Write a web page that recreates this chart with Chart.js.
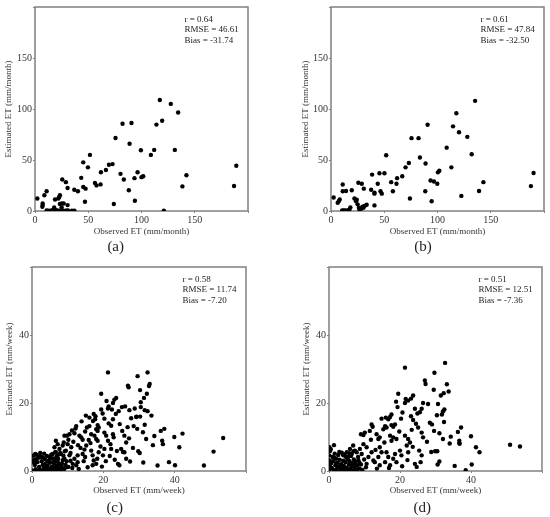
<!DOCTYPE html>
<html>
<head>
<meta charset="utf-8">
<script src="https://cdn.jsdelivr.net/npm/chart.js"></script>
<style>
  body { margin: 0; background: #fff; }
  #wrap { position: relative; width: 550px; height: 517px; }
  canvas { position: absolute; }
</style>
</head>
<body>
<div id="wrap">
  <canvas id="chartA" width="275" height="260" style="left:0;top:0"></canvas>
  <canvas id="chartB" width="275" height="260" style="left:275px;top:0"></canvas>
  <canvas id="chartC" width="275" height="257" style="left:0;top:260px"></canvas>
  <canvas id="chartD" width="275" height="257" style="left:275px;top:260px"></canvas>
</div>
<script>
// (a) monthly, [observed, estimated]
const monthlyA = [
  [2.2,12.2],[7.2,7.4],[7.2,5.8],[6.9,4.2],[8.8,15.5],[10.9,19.3],[10.9,0.5],[12.5,0.3],[14.7,0.3],[16,0.5],
  [17.3,1.2],[18.5,0.3],[21.6,0.3],[23.4,0.3],[26.6,0.3],[29.7,0.3],[31,0.5],[34.7,0.3],[37,0.3],[18.8,11.3],
  [18,3.5],[21.9,12.2],[22.8,13.8],[23.4,15.5],[25.6,30.9],[25,7.4],[23.4,6.8],[25,3.5],[26.9,7.4],[29,28.3],
  [30.6,22.5],[30.6,5.8],[36.9,20.9],[40.3,19.3],[43.4,32.5],[45.3,47.7],[45.3,23.5],[47.5,21.9],[46.9,9],[49.7,42.8],
  [51.6,55],[56.3,27.4],[57.8,25.1],[61.6,26.1],[61.9,38],[66.6,40.2],[69.4,45.4],[72.8,46],[74,6.8],[75.6,71.5],
  [80.3,36.4],[82.2,85.6],[83.4,30.9],[88.8,66],[88.1,20.3],[90.6,86.3],[93.4,32.2],[93.8,10],[96.3,38],[99.4,59.6],
  [100,33.2],[101.6,34.1],[108.8,55],[111.9,59.9],[114,84.7],[117.2,108.8],[119.4,88.5],[121,0.3],[127.5,105],[131.3,59.9],
  [134.4,96.6],[138.4,24.1],[142.2,35.1],[186.9,24.5],[189,44.4],[28.8,0.3],[20,0.8]
];
// (b) monthly
const monthlyB = [
  [2.5,13.2],[6.3,8],[7.2,9.6],[8.2,11.3],[11,26],[11,19.3],[10.5,0.5],[12,0.5],[13.5,0.5],[15.6,0.5],
  [17.2,1.2],[14.1,19.6],[19.5,20.3],[18.2,3.5],[22,12.2],[23.5,9.6],[25.7,27.7],[25,6.5],[26.2,3.3],[26.8,1.5],
  [28.6,2.3],[30.5,3.3],[31.5,5],[28.9,26.7],[30.8,21.9],[37.7,20.9],[38.6,35.7],[40.8,18],[40.8,17],[40.8,5.5],
  [43.9,26.7],[45.5,37],[46.5,19.3],[47.7,17],[50.2,37],[51.8,54.7],[56.5,28.3],[58.1,19.3],[61.5,26.7],[62.1,32.2],
  [66.9,34.1],[70,42.8],[73.1,47],[74.1,12.2],[75.6,71.4],[82.2,71.4],[83.5,52.4],[88.8,46.6],[88.5,19.3],[90.7,84.6],
  [93.5,29.9],[94.5,9.6],[96.7,28.9],[99.8,26.7],[100.4,37.9],[101.7,39.5],[108.6,62.1],[113,42.8],[114.6,83],[117.7,95.8],
  [120.2,77.2],[122.4,14.8],[128,72.7],[132.1,55.6],[135.3,108],[139,19.6],[143.1,28.3],[187.7,24.4],[190.2,37.3],[33.5,6.2],
  [24.2,11],[29.5,4.2]
];
// (c) weekly
const weeklyC = [
  [32.4,29],[29.6,27.9],[33,25.6],[32.8,25],[30.3,23.8],[32.2,22.7],[31.4,21.5],[30.5,20.2],[30.5,18.8],[31.6,17.9],
  [32.4,17.6],[29.3,16],[30.3,16],[33.5,16.3],[31.6,13.6],[31.1,11.4],[37.1,12.4],[36.1,11.8],[42.2,11],[39.9,10],
  [32,9.4],[34.3,10.3],[36.5,8.9],[36.7,7.9],[53.6,9.7],[33.9,7.6],[41.3,7],[29.8,5.8],[30.2,5.3],[50.9,5.7],
  [31.2,2.5],[35.2,1.6],[38.4,2.6],[40.1,1.7],[48.2,1.6],[28.8,18.4],
  [21.3,29],[26.9,25.1],[27.1,24.6],[19.4,22.7],[23.6,21.5],[23.1,21],[22.7,20],[21.5,19],[21.3,18.4],[19.4,18.1],
  [25.2,18.8],[26.1,19],[27.3,17.9],[24.3,17.6],[29.2,15.9],[17.3,16.8],[17.8,16.1],[17.7,15.2],[17.1,14.7],[16.1,15.7],
  [20.3,15.4],[22.7,15.2],[21.5,14],[22.2,13.3],[18.4,13.5],[18.7,12.8],[18,12.3],[18.4,11.8],[16.1,13.2],[15.4,12.8],
  [14.9,11.6],[12.4,13.2],[12.2,12.5],[11.9,11.1],[10.5,10.8],[9.8,10.4],[9.1,10.4],[13.3,10.4],[13.8,9.9],[14.2,9.2],
  [16.6,10.8],[17.5,10.4],[18,9.4],[18.4,8.9],[20.3,11.3],[20.8,10.4],[21.3,8.9],[22.7,10.8],[22.9,9.9],[25.3,11.8],
  [25.9,10.4],[26.4,8.4],[25,6.5],[25.9,5.5],[26.4,3.6],[24.1,2.1],[24.5,1.7],[22,7.9],[22.2,6.5],[20.3,6.5],
  [19.9,4.6],[18.7,5.5],[18.3,3.6],[18,2.1],[16.6,6],[17,4.6],[17.3,3.1],[17,1.7],[15.2,7.5],[14.7,6.3],
  [14.2,5],[14.9,4.1],[12.8,4.6],[11.9,3.6],[12.8,2.6],[11.4,2.1],[12.4,1.7],[10,7.9],[11,7],[9.5,6],
  [8.6,7.5],[8.1,5],[10.5,4.6],[9.1,3.6],[6.7,8.9],[7.2,7.9],[6.3,7],[7.7,6.5],[6.7,5.5],[5.8,5],
  [7.2,4.6],[6.3,3.6],
  [27.8,15.5],[28.5,13.2],[27.2,9.6],[28.3,6.8],[29.5,12.4],[26.8,12.9],[24.6,13.8],[23.5,16.8],[25.5,5.6],[27.5,2.8],
  [8.4,2.2],[9.6,1.1],[10.8,5.3],[11.6,8.6],[12.9,7.6],[13.6,6.8],[13.1,0.6],[14.5,2.9],[15.6,1.1],[15.9,9.1],
  [16.4,8.2],[19.2,7.2],[19.6,1.3],[20.7,2.9],[21.8,4.4],[23.2,3.3],[23.8,5.9],[10.2,9.2],[8.9,8.4],[11.2,11.9],
  [13.9,14.6],[15.1,16.3],[19.8,16.9],[20.9,20.6],[22.4,18.1],
  [0.3,4.5],[0.5,3.2],[0.8,1.8],[1,0.5],[1.2,4.8],[1.5,2.6],[1.8,3.9],[2,1.2],[2.2,0.3],[2.5,4.2],
  [2.7,2.9],[3,1.8],[3.2,0.6],[3.4,5.1],[3.6,3.5],[3.8,2.2],[4,0.9],[4.2,4.4],[4.4,1.5],[4.6,0.2],
  [4.8,3.1],[5,2.4],[5.2,0.7],[5.4,4.8],[5.6,1.3],[5.8,3.7],[6,0.4],[6.2,2.1],[6.4,1],[6.6,3],
  [6.8,0.2],[7,1.6],[7.2,2.7],[7.5,0.8],[7.8,2],[8,0.3],[8.3,1.3],[8.6,3.2],[9,0.6],[9.4,1.8],
  [2.3,5.3],[1.1,3.5],[0.6,2.4],[3.1,4],[4.9,4.1],[5.5,0.1],[6.9,4.2],[7.3,3.6],[8.8,4.5],[9.7,2.9],
  [10.2,1.2],[10.8,3],[11.3,0.9],[0.2,0.1],[1.6,0.1],[2.9,0.1],[3.7,1.2],[4.5,2.9],[5.9,2.6],[6.5,5.5],
  [7.9,5.3],[9.2,5.8],[3.5,0.1],[0.9,5],[2,4.3]
];
// (d) weekly
const weeklyD = [
  [32.7,31.8],[29.7,28.9],[33.2,25.5],[29.5,23.9],[33.7,23.4],[32.3,22.9],[31.5,22.2],[30.7,19.7],[32.5,18.1],[32.1,17.5],
  [31.8,16.6],[30.4,16.4],[32.4,14.4],[37.2,12.8],[36.3,11.5],[31.1,11.1],[40,10.2],[34.3,10.1],[32.1,9.4],[36.7,8.9],
  [36.7,8.2],[36.8,8],[34,8.1],[41.4,7],[51,7.7],[53.8,7.2],[42.4,5.5],[29.9,5.8],[30.5,5.8],[31.1,2.8],
  [30.6,1.9],[35.4,1.5],[40.2,1.9],[38.5,0.2],[29,13.7],
  [21.4,30.4],[27,26.6],[27.2,25.6],[19.5,22.7],[23.7,22.2],[23.1,21.3],[22.3,20.7],[21.6,21.2],[21.4,20],[19.3,18.8],
  [26.5,20],[26.1,18.3],[25.6,17.3],[24.9,16.9],[24.2,18.3],[23.1,16.1],[23.7,15],[17.6,16.6],[17.2,15.9],[16.7,15.2],
  [16,15.7],[14.8,15.4],[20.3,15.4],[17.6,13.5],[18.1,13],[18.6,13.7],[15.8,13.2],[16.2,12.8],[15.3,12.3],[12,13.7],
  [12.3,13],[11.5,11.8],[10.1,11.3],[9.7,10.6],[9,10.8],[13.4,10.8],[14.3,9.9],[13.9,9.4],[17.2,10.4],[18.1,9.9],
  [17.6,8.9],[19,9.4],[21.4,10.4],[22.3,9.4],[22.8,8.4],[25.1,12.8],[26.1,11.3],[26.5,9.9],[25.4,6],[26.1,4.6],
  [25.8,2.6],[24.2,2.1],[24.7,1.2],[21.9,7.5],[22.3,5.5],[20,6],[20.4,4.6],[18.6,5],[18.1,3.6],[19,2.6],
  [16.2,5.5],[16.7,4.1],[15.8,2.6],[17.2,1.7],[14.3,7],[14.8,5.5],[13.9,4.1],[12.9,2.6],[14.3,1.7],[12,5.5],
  [11.1,4.1],[12.5,3.1],[10.6,2.1],[9.7,7.9],[10.6,7],[8.7,6.5],[9.2,5],[7.8,5.5],[8.2,4.1],[6.8,7.5],
  [5.9,6.5],[7.3,6],[5,5.5],[6.4,5],[5.4,4.1],[4,4.6],[1.4,7.6],[0.1,7],
  [27.9,19.7],[28.4,14.2],[27.6,8.6],[28.8,5.6],[29.6,11.8],[24.5,13.9],[23.3,12.1],[19.8,11.6],[20.7,17.2],[18.9,20.4],
  [13.1,6.2],[15.6,8.4],[11.8,9.2],[10.4,1.1],[13.5,0.7],[16.9,0.9],[20.6,1.4],[22.1,3.2],[23.6,7.1],[8.6,2.4],
  [9.9,3.4],[7.4,2.9],
  [0.1,0.3],[0.2,1.6],[0.2,3.1],[0.1,4.6],[0.3,5.9],[0.6,2.3],[0.8,0.9],[1,4.1],[1.2,2.9],[1.4,0.2],
  [1.6,5.1],[1.8,1.7],[2,3.6],[2.2,0.6],[2.4,2.4],[2.6,4.7],[2.8,1.2],[3,3.3],[3.2,0.1],[3.4,2],
  [3.6,5.4],[3.8,0.8],[4,3],[4.2,1.5],[4.4,0.3],[4.6,2.6],[4.8,4.1],[5,1],[5.2,3.5],[5.4,0.2],
  [5.6,1.9],[5.8,2.9],[6,0.6],[6.2,4.4],[6.4,1.3],[6.6,2.3],[6.8,0.1],[7,3.4],[7.2,1.1],[7.5,2],
  [7.8,0.4],[8,1.6],[8.3,3.1],[8.6,0.7],[9,1.9],[9.4,0.3],[1.5,3.9],[2.9,5.6],[4.3,4.9],[5.7,5.2],
  [6.9,5.8],[0.5,6.4],[3.5,1.1],[2.1,2.2],[4.7,0.6]
];

const statsA = ['r = 0.64', 'RMSE = 46.61', 'Bias = -31.74'];
const statsB = ['r = 0.61', 'RMSE = 47.84', 'Bias = -32.50'];
const statsC = ['r = 0.58', 'RMSE = 11.74', 'Bias = -7.20'];
const statsD = ['r = 0.51', 'RMSE = 12.51', 'Bias = -7.36'];

const monthTitles = ['Observed ET (mm/month)', 'Estimated ET (mm/month)'];
const weekTitles = ['Observed ET (mm/week)', 'Estimated ET (mm/week)'];

const serif = '"Liberation Serif", "Times New Roman", serif';

// frame, r/RMSE/Bias box and the (a)..(d) caption
const panelDecor = {
  id: 'panelDecor',
  beforeDatasetsDraw(chart) {
    const { ctx, chartArea: a } = chart;
    ctx.save();
    ctx.strokeStyle = '#808080';
    ctx.lineWidth = 1.5;
    ctx.strokeRect(a.left, a.top, a.right - a.left, a.bottom - a.top);
    ctx.restore();
  },
  afterDraw(chart, args, opts) {
    const { ctx, chartArea: a } = chart;
    ctx.save();
    ctx.fillStyle = '#222';
    ctx.textBaseline = 'middle';
    ctx.font = '9px ' + serif;
    opts.lines.forEach((t, i) => ctx.fillText(t, a.right - 63.5, a.top + 12.7 + i * 10.3));
    ctx.font = '15px ' + serif;
    ctx.textAlign = 'center';
    ctx.fillText(opts.caption, opts.capX, opts.capY);
    ctx.restore();
  }
};

function makePanel(id, points, stats, caption, titles, p) {
  const hideLast = v => (v >= p.max ? '' : v);
  new Chart(document.getElementById(id), {
    type: 'scatter',
    data: {
      datasets: [{
        data: points.map(d => ({ x: d[0], y: d[1] })),
        backgroundColor: '#000',
        borderWidth: 0,
        pointRadius: 2.2
      }]
    },
    options: {
      responsive: false,
      animation: false,
      devicePixelRatio: 1,
      layout: { padding: { left: 0, top: 4, right: p.padRight, bottom: 0 } },
      plugins: {
        legend: { display: false },
        tooltip: { enabled: false },
        panelDecor: { lines: stats, caption: caption, capX: p.capX, capY: p.capY }
      },
      scales: {
        x: {
          type: 'linear', min: 0, max: p.max,
          border: { display: false },
          grid: { drawOnChartArea: false, tickLength: 2, tickColor: '#808080' },
          ticks: { stepSize: p.step, autoSkip: false, maxRotation: 0, padding: 1, color: '#333',
                   font: { family: serif, size: 10 }, callback: hideLast },
          title: { display: true, text: titles[0], color: '#333', font: { family: serif, size: 9 },
                   padding: { top: 0, bottom: p.xTitlePad } },
          afterFit: s => { s.height = p.xHeight; }
        },
        y: {
          type: 'linear', min: 0, max: p.max,
          border: { display: false },
          grid: { drawOnChartArea: false, tickLength: 2, tickColor: '#808080' },
          ticks: { stepSize: p.step, autoSkip: false, padding: 1, color: '#333',
                   font: { family: serif, size: 10 }, callback: hideLast },
          title: { display: true, text: titles[1], color: '#333', font: { family: serif, size: 9 },
                   padding: { top: p.yTitlePad, bottom: 0 } },
          afterFit: s => { s.width = p.yWidth; }
        }
      }
    },
    plugins: [panelDecor]
  });
}

makePanel('chartA', monthlyA, statsA, '(a)', monthTitles,
  { max: 200, step: 50, yWidth: 35, padRight: 27, xHeight: 49, xTitlePad: 22.9, yTitlePad: 3.6, capX: 115.7, capY: 247 });
makePanel('chartB', monthlyB, statsB, '(b)', monthTitles,
  { max: 200, step: 50, yWidth: 56, padRight: 6, xHeight: 49, xTitlePad: 22.9, yTitlePad: 25.6, capX: 148, capY: 247 });
makePanel('chartC', weeklyC, statsC, '(c)', weekTitles,
  { max: 60, step: 20, yWidth: 32, padRight: 29, xHeight: 46, xTitlePad: 20.6, yTitlePad: 4.6, capX: 114.7, capY: 248.3 });
makePanel('chartD', weeklyD, statsD, '(d)', weekTitles,
  { max: 60, step: 20, yWidth: 54, padRight: 8, xHeight: 46, xTitlePad: 20.6, yTitlePad: 26.3, capX: 147.3, capY: 248.3 });
</script>
</body>
</html>
